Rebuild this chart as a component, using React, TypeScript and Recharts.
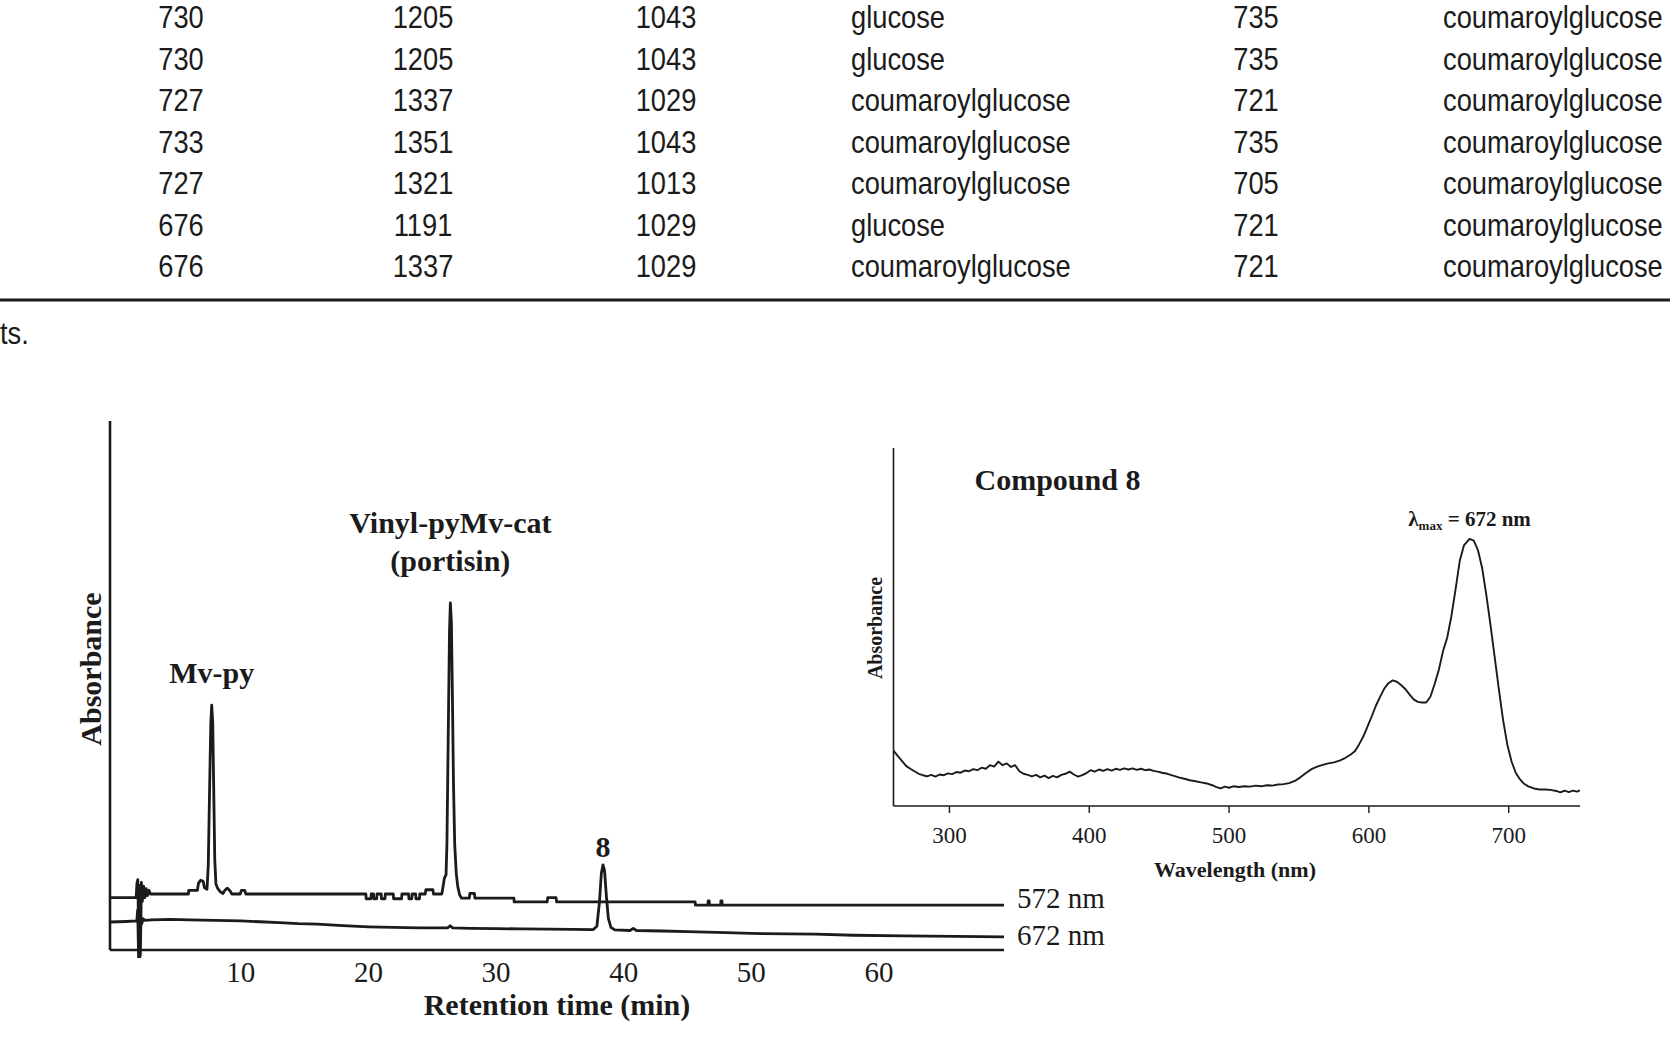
import React from 'react';
import { LineChart, Line, XAxis, YAxis, ReferenceLine, ReferenceDot } from 'recharts';

const W = 1670;
const H = 1053;
const INK = '#1b1b1b';
const SERIF = '"Liberation Serif", "Times New Roman", Times, serif';
const SANS = '"Liberation Sans", Arial, Helvetica, sans-serif';

// ---- table rows (upper part of the page) ----
const TABLE_COL_A = [730, 730, 727, 733, 727, 676, 676];
const TABLE_COL_B = [1205, 1205, 1337, 1351, 1321, 1191, 1337];
const TABLE_COL_C = [1043, 1043, 1029, 1043, 1013, 1029, 1029];
const TABLE_COL_D = ['glucose', 'glucose', 'coumaroylglucose', 'coumaroylglucose', 'coumaroylglucose', 'glucose', 'coumaroylglucose'];
const TABLE_COL_E = [735, 735, 721, 735, 705, 721, 721];
const TABLE_COL_F = ['coumaroylglucose', 'coumaroylglucose', 'coumaroylglucose', 'coumaroylglucose', 'coumaroylglucose', 'coumaroylglucose', 'coumaroylglucose'];
const FOOTNOTE_TAIL = 'ts.';

// ---- HPLC chromatogram: retention time (min), absorbance (arbitrary units) ----
const RT_TICKS = [10, 20, 30, 40, 50, 60];
const TRACE_572: [number, number][] = [
  [-0.25, 9.9], [1.8, 9.9], [1.86, 12.6], [1.93, 13.3], [1.98, 5.5], [2.03, 12.2], [2.09, -1.3],
  [2.15, 2.5], [2.21, 12.8], [2.28, 9.2], [2.38, 12.1], [2.48, 9.9], [2.58, 11.6], [2.68, 10.3],
  [2.8, 11.3], [2.92, 10.6], [5.9, 10.6], [5.92, 11.3], [6.6, 11.3], [6.68, 12.6], [6.85, 13.2],
  [7.05, 13.0], [7.15, 11.8], [7.35, 11.5], [7.45, 16], [7.55, 30], [7.65, 43], [7.72, 46.3],
  [7.8, 43], [7.88, 30], [7.96, 17], [8.05, 12.5], [8.2, 11.6], [8.4, 11.0], [8.6, 10.7],
  [8.75, 11.3], [8.95, 11.7], [9.15, 11.2], [9.3, 10.6], [9.95, 10.6], [10.05, 11.3], [10.3, 11.3],
  [10.4, 10.6], [19.8, 10.6], [19.82, 9.7], [20.2, 9.7], [20.22, 10.6], [20.4, 10.6], [20.42, 9.7],
  [20.65, 9.7], [20.67, 10.6], [21.0, 10.6], [21.02, 9.7], [21.3, 9.7], [21.32, 10.6], [21.95, 10.6],
  [21.97, 9.7], [22.6, 9.7], [22.62, 10.6], [23.15, 10.6], [23.17, 9.7], [23.4, 9.7], [23.42, 10.6],
  [23.7, 10.6], [23.72, 9.7], [24.0, 9.7], [24.02, 10.6], [24.45, 10.6], [24.5, 11.4], [25.05, 11.4],
  [25.1, 10.6], [25.75, 10.6], [25.85, 12.0], [25.95, 13.6], [26.08, 14.2], [26.15, 20], [26.25, 40],
  [26.35, 60], [26.42, 65.6], [26.5, 62], [26.58, 48], [26.66, 32], [26.76, 20], [26.88, 14.5],
  [27.0, 12.0], [27.15, 10.4], [27.3, 9.8], [27.9, 9.8], [27.95, 10.7], [28.3, 10.7], [28.35, 9.8],
  [31.4, 9.8], [31.42, 9.1], [34.0, 9.1], [34.05, 9.9], [34.7, 9.9], [34.75, 9.1], [45.6, 9.1],
  [45.62, 8.5], [46.6, 8.5], [46.62, 9.3], [46.7, 9.3], [46.72, 8.5], [47.6, 8.5], [47.62, 9.3],
  [47.7, 9.3], [47.72, 8.5], [69.8, 8.5],
];
const TRACE_672: [number, number][] = [
  [-0.25, 5.3], [1.0, 5.4], [1.85, 5.5], [1.92, 7.6], [1.99, -1.4], [2.05, 6.9], [2.11, -1.0],
  [2.17, 6.3], [2.24, 5.0], [2.35, 5.9], [2.5, 5.6], [3.0, 5.7], [4.5, 5.8], [6.0, 5.7], [8.0, 5.6],
  [10.0, 5.5], [11.5, 5.35], [13.0, 5.2], [14.5, 5.0], [16.0, 4.9], [18.0, 4.6], [20.0, 4.4],
  [22.0, 4.3], [24.0, 4.2], [26.2, 4.2], [26.4, 4.6], [26.6, 4.2], [28.0, 4.1], [30.0, 4.05],
  [32.0, 4.0], [34.0, 3.95], [36.0, 3.9], [37.6, 3.85], [37.9, 4.5], [38.1, 9.0], [38.25, 14.5],
  [38.38, 16.1], [38.5, 15.0], [38.65, 10.0], [38.8, 6.0], [39.0, 4.3], [39.3, 3.8], [40.5, 3.7],
  [40.75, 4.1], [41.0, 3.7], [43.0, 3.6], [45.0, 3.5], [48.0, 3.3], [50.0, 3.15], [55.0, 3.0],
  [58.0, 2.8], [62.0, 2.7], [66.0, 2.6], [69.8, 2.5],
];

// ---- UV-Vis spectrum of compound 8: wavelength (nm), absorbance ----
const NM_TICKS = [300, 400, 500, 600, 700];
const LAMBDA_MAX = 672;
const SPECTRUM_8: [number, number][] = [
  [260, .155], [263, .140], [266, .126], [269, .112], [272, .104], [275, .097], [278, .090], [281, .086],
  [284, .083], [287, .087], [290, .082], [293, .088], [296, .086], [299, .091], [302, .089], [305, .095],
  [308, .093], [311, .099], [314, .097], [317, .103], [320, .100], [323, .107], [326, .104], [329, .114],
  [332, .110], [335, .124], [338, .114], [341, .119], [344, .109], [347, .114], [350, .097], [353, .090],
  [356, .087], [359, .083], [362, .087], [365, .080], [368, .085], [371, .078], [374, .084], [377, .080],
  [380, .087], [383, .090], [386, .096], [389, .088], [392, .082], [395, .086], [398, .092], [401, .100],
  [404, .096], [407, .102], [410, .098], [413, .103], [416, .099], [419, .104], [422, .101], [425, .105],
  [428, .102], [431, .105], [434, .101], [437, .104], [440, .100], [443, .102], [446, .098], [449, .096],
  [452, .093], [456, .090], [460, .085], [464, .080], [468, .076], [472, .072], [476, .069], [480, .066],
  [484, .063], [488, .058], [491, .053], [494, .049], [497, .054], [500, .051], [503, .055], [507, .053],
  [511, .055], [515, .054], [519, .057], [523, .055], [527, .058], [531, .057], [535, .060], [539, .061],
  [543, .064], [547, .070], [551, .080], [555, .092], [559, .103], [563, .110], [567, .115], [571, .119],
  [575, .122], [579, .127], [583, .134], [587, .144], [590, .153], [593, .172], [596, .194], [599, .222],
  [602, .250], [605, .280], [608, .305], [611, .328], [614, .343], [617, .351], [620, .347], [623, .338],
  [626, .327], [629, .312], [632, .298], [635, .291], [638, .289], [641, .289], [644, .305], [647, .340],
  [650, .380], [653, .432], [656, .470], [659, .530], [662, .605], [665, .685], [668, .728], [672, .746],
  [675, .741], [678, .715], [681, .665], [684, .590], [687, .505], [690, .415], [693, .325], [696, .240],
  [699, .172], [702, .125], [705, .093], [708, .075], [711, .062], [714, .055], [718, .049], [722, .046],
  [726, .046], [730, .045], [734, .042], [737, .038], [740, .043], [743, .039], [746, .043], [749, .040],
  [751, .044],
];

const toRows = (pairs: [number, number][]) => pairs.map(([t, v]) => ({ t, v }));
const rows572 = toRows(TRACE_572);
const rows672 = toRows(TRACE_672);
const spectrumRows = SPECTRUM_8.map(([nm, a]) => ({ nm, a }));

// highest point of a trace inside a time window
const peakOf = (pairs: [number, number][], from: number, to: number) =>
  pairs.filter(([t]) => t >= from && t <= to).reduce((best, p) => (p[1] > best[1] ? p : best));

const PEAK_MVPY = peakOf(TRACE_572, 7, 9);
const PEAK_PORTISIN = peakOf(TRACE_572, 25, 28);
const PEAK_8 = peakOf(TRACE_672, 37, 40);
const END_572 = TRACE_572[TRACE_572.length - 1];
const END_672 = TRACE_672[TRACE_672.length - 1];
const LAMBDA_POINT = SPECTRUM_8.find(([nm]) => nm === LAMBDA_MAX)!;

const centerOf = (props: any) => {
  const vb = props.viewBox || {};
  return { cx: (vb.x ?? 0) + (vb.width ?? 0) / 2, cy: (vb.y ?? 0) + (vb.height ?? 0) / 2 };
};

const peakLabel = (lines: string[], rise: number[], size: number) => (props: any) => {
  const { cx, cy } = centerOf(props);
  return (
    <g>
      {lines.map((s, i) => (
        <text key={i} x={cx} y={cy - rise[i]} textAnchor="middle" fontFamily={SERIF} fontWeight="bold"
          fontSize={size} fill={INK}>{s}</text>
      ))}
    </g>
  );
};

const traceLabel = (text: string, dy: number) => (props: any) => {
  const { cx, cy } = centerOf(props);
  return (
    <text x={cx + 13} y={cy + dy} textAnchor="start" fontFamily={SERIF} fontSize={29} fill={INK}>{text}</text>
  );
};

const lambdaLabel = (props: any) => {
  const { cx, cy } = centerOf(props);
  return (
    <text x={cx} y={cy - 13} textAnchor="middle" fontFamily={SERIF} fontWeight="bold" fontSize={21} fill={INK}>
      λ<tspan fontSize={13} dy={4}>max</tspan><tspan dy={-4}>{` = ${LAMBDA_MAX} nm`}</tspan>
    </text>
  );
};

function Table() {
  const rowY = (i: number) => 28.3 + i * 41.45;
  const cell = (x: number, y: number, s: string | number, anchor: 'start' | 'middle') => (
    <text transform={`translate(${x},${y}) scale(0.88,1)`} textAnchor={anchor} fontFamily={SANS}
      fontSize={31} fill={INK}>{s}</text>
  );
  return (
    <g>
      {TABLE_COL_A.map((_, i) => (
        <g key={i}>
          {cell(181, rowY(i), TABLE_COL_A[i], 'middle')}
          {cell(423, rowY(i), TABLE_COL_B[i], 'middle')}
          {cell(666, rowY(i), TABLE_COL_C[i], 'middle')}
          {cell(851, rowY(i), TABLE_COL_D[i], 'start')}
          {cell(1256, rowY(i), TABLE_COL_E[i], 'middle')}
          {cell(1443, rowY(i), TABLE_COL_F[i], 'start')}
        </g>
      ))}
      <line x1={0} x2={W} y1={300} y2={300} stroke={INK} strokeWidth={3} />
      {cell(0, 344, FOOTNOTE_TAIL, 'start')}
    </g>
  );
}

export default function App() {
  return (
    <div style={{ position: 'absolute', left: 0, top: 0, width: W, height: H, background: '#fff', overflow: 'hidden' }}>
      <svg width={W} height={H} style={{ position: 'absolute', left: 0, top: 0 }}>
        <Table />
        <text x={557} y={1015} textAnchor="middle" fontFamily={SERIF} fontWeight="bold" fontSize={30} fill={INK}>
          Retention time (min)
        </text>
        <text transform="translate(101,669) rotate(-90)" textAnchor="middle" fontFamily={SERIF} fontWeight="bold"
          fontSize={30} fill={INK}>Absorbance</text>
        <text x={1235} y={877} textAnchor="middle" fontFamily={SERIF} fontWeight="bold" fontSize={22} fill={INK}>
          Wavelength (nm)
        </text>
        <text transform="translate(882,628) rotate(-90)" textAnchor="middle" fontFamily={SERIF} fontWeight="bold"
          fontSize={20} fill={INK}>Absorbance</text>
        <text x={974.5} y={490} textAnchor="start" fontFamily={SERIF} fontWeight="bold" fontSize={30} fill={INK}>
          Compound 8
        </text>
      </svg>

      <div style={{ position: 'absolute', left: 0, top: 0 }}>
        <LineChart width={W} height={H} margin={{ top: 421, right: 666, bottom: 55, left: 110 }}>
          <XAxis type="number" dataKey="t" domain={[-0.25, 69.8]} allowDataOverflow ticks={RT_TICKS} interval={0}
            axisLine={false} tickLine={false} tickSize={0} tickMargin={3} height={40}
            tick={{ fontFamily: SERIF, fontSize: 29, fill: INK }} />
          <YAxis hide type="number" domain={[-1.5, 100]} allowDataOverflow />
          <ReferenceLine y={0} stroke={INK} strokeWidth={2.6} />
          <ReferenceLine segment={[{ x: -0.25, y: 0 }, { x: -0.25, y: 100 }]} stroke={INK} strokeWidth={2.6} />
          <Line data={rows572} dataKey="v" type="linear" stroke={INK} strokeWidth={2.8} dot={false}
            activeDot={false} strokeLinejoin="round" isAnimationActive={false} />
          <Line data={rows672} dataKey="v" type="linear" stroke={INK} strokeWidth={2.8} dot={false}
            activeDot={false} strokeLinejoin="round" isAnimationActive={false} />
          <ReferenceDot x={PEAK_MVPY[0]} y={PEAK_MVPY[1]} r={0} label={peakLabel(['Mv-py'], [22], 30)} />
          <ReferenceDot x={PEAK_PORTISIN[0]} y={PEAK_PORTISIN[1]} r={0}
            label={peakLabel(['Vinyl-pyMv-cat', '(portisin)'], [70, 32], 30)} />
          <ReferenceDot x={PEAK_8[0]} y={PEAK_8[1]} r={0} label={peakLabel(['8'], [8], 30)} />
          <ReferenceDot x={END_572[0]} y={END_572[1]} r={0} label={traceLabel('572 nm', 3)} />
          <ReferenceDot x={END_672[0]} y={END_672[1]} r={0} label={traceLabel('672 nm', 8)} />
        </LineChart>
      </div>

      <div style={{ position: 'absolute', left: 0, top: 0 }}>
        <LineChart width={W} height={H} margin={{ top: 448, right: 90, bottom: 187, left: 893.5 }}>
          <XAxis type="number" dataKey="nm" domain={[260, 751]} allowDataOverflow ticks={NM_TICKS} interval={0}
            height={60} tickSize={7} tickMargin={14}
            axisLine={{ stroke: INK, strokeWidth: 1.6 }} tickLine={{ stroke: INK, strokeWidth: 1.4 }}
            tick={{ fontFamily: SERIF, fontSize: 23, fill: INK }} />
          <YAxis hide type="number" domain={[0, 1]} allowDataOverflow />
          <ReferenceLine x={260} stroke={INK} strokeWidth={1.6} />
          <Line data={spectrumRows} dataKey="a" type="linear" stroke={INK} strokeWidth={1.9} dot={false}
            activeDot={false} strokeLinejoin="round" isAnimationActive={false} />
          <ReferenceDot x={LAMBDA_POINT[0]} y={LAMBDA_POINT[1]} r={0} label={lambdaLabel} />
        </LineChart>
      </div>
    </div>
  );
}
